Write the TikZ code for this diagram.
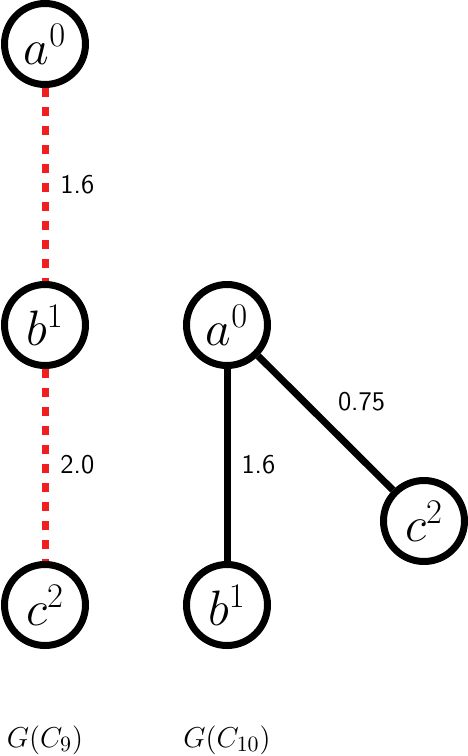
\documentclass[tikz,border=0pt]{standalone}
\usepackage{tikz}
\usetikzlibrary{positioning}
\definecolor{rojo}{HTML}{F01E1E}
\tikzset{
  vertice/.style={draw=black,circle,line width=3.5pt,minimum size=40.5pt,inner sep=0pt,font=\fontsize{23}{26}\selectfont},
  arista/.style={line width=3.5pt,black},
  aristaroja/.style={line width=3.5pt,rojo,dash pattern=on 4.5pt off 5pt},
  etiqueta/.style={font=\fontsize{13.5}{15}\selectfont\sffamily,inner sep=0pt,text=black},
  titulo/.style={font=\fontsize{15}{17}\selectfont},
}
\begin{document}
\begin{tikzpicture}[x=0.5pt,y=-0.5pt]
  \useasboundingbox (0,0) rectangle (467,756);
  % G(C_9)
  \node[vertice] (a9) at (45,44) {$a^0$};
  \node[vertice] (b9) at (45,325) {$b^1$};
  \node[vertice] (c9) at (45,605) {$c^2$};
  \draw[aristaroja] (a9) -- node[etiqueta,right=6pt] {1.6} (b9);
  \draw[aristaroja] (b9) -- node[etiqueta,right=6pt] {2.0} (c9);
  % G(C_10)
  \node[vertice] (a10) at (227,325) {$a^0$};
  \node[vertice] (b10) at (227,605) {$b^1$};
  \node[vertice] (c10) at (424,521) {$c^2$};
  \draw[arista] (a10) -- node[etiqueta,right=5.5pt] {1.6} (b10);
  \draw[arista] (a10) -- node[etiqueta,above right=4pt and 4.5pt] {0.75} (c10);
  % titulos
  \node[titulo] (t9) at (45,740) {$G(C_9)$};
  \node[titulo] (t10) at (227,740) {$G(C_{10})$};
\end{tikzpicture}
\end{document}
